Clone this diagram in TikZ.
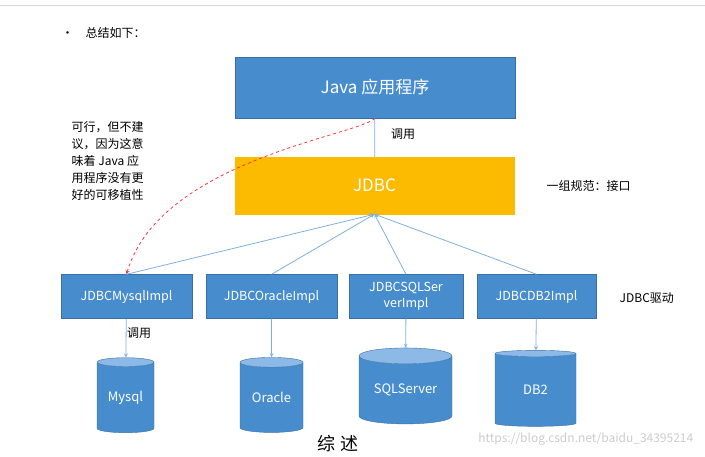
\documentclass[tikz,border=0pt]{standalone}
\usepackage{fontspec}
\setmainfont{Noto Sans CJK SC}
\usetikzlibrary{shapes.geometric,positioning}
\definecolor{boxblue}{RGB}{71,140,205}
\definecolor{topblue}{RGB}{140,185,230}
\definecolor{jdbcgold}{RGB}{252,186,0}
\begin{document}
\begin{tikzpicture}[x=1pt,y=-1pt,
        every path/.style={thick},
        box/.style={draw=boxblue!80!black, thin, fill=boxblue, text=white, align=center, inner sep=0pt},
        db/.style={cylinder, shape border rotate=90, aspect=0.25, draw=boxblue!80!black, thin,
          cylinder uses custom fill, cylinder body fill=boxblue, cylinder end fill=topblue,
          text=white, inner sep=0pt},
        link/.style={->, draw=topblue!80!boxblue, thick, >=stealth},
        note/.style={font=\fontsize{12}{17}\selectfont, align=left}
    ]
    \useasboundingbox (0,0) rectangle (705,457);
    \draw[gray!30, thin] (0,5) -- (705,5);

    % Nodes
      \node (head)[note, anchor=west] at (58,33) {•\quad 总结如下：};
      \node (java)[box, minimum width=280pt, minimum height=61pt, font=\fontsize{17}{20}\selectfont] at (375,87.5) {Java 应用程序};
      \node (jdbc)[box, fill=jdbcgold, draw=jdbcgold, minimum width=279pt, minimum height=57pt, font=\fontsize{17}{20}\selectfont] at (374.5,185.5) {JDBC};
      \node (spec)[note, anchor=west] at (543,186) {一组规范：接口};
      \node (call)[note] at (403,134) {调用};
      \node (hint)[note, anchor=north west] at (68,118) {可行，但不建\\议，因为这意\\味着 Java 应\\用程序没有更\\好的可移植性};

      \node (mysqlimpl)[box, minimum width=131pt, minimum height=44pt, font=\fontsize{12.5}{16}\selectfont] at (126.5,296.5) {JDBCMysqlImpl};
      \node (oracleimpl)[box, minimum width=131pt, minimum height=44pt, font=\fontsize{12.5}{16}\selectfont] at (271.5,296.5) {JDBCOracleImpl};
      \node (sqlimpl)[box, minimum width=114pt, minimum height=44pt, font=\fontsize{12.5}{16}\selectfont] at (406,296.5) {JDBCSQLSer\\verImpl};
      \node (db2impl)[box, minimum width=119pt, minimum height=44pt, font=\fontsize{12.5}{16}\selectfont] at (536.5,296.5) {JDBCDB2Impl};
      \node (driver)[note, anchor=west] at (616,298) {JDBC驱动};
      \node (call2)[note] at (139,333) {调用};

      \node (mysql)[db, minimum width=57pt, minimum height=75pt, font=\fontsize{13}{15}\selectfont] at (125.5,397.5) {Mysql};
      \node (oracle)[db, minimum width=63pt, minimum height=75pt, font=\fontsize{13}{15}\selectfont] at (271.5,397.5) {Oracle};
      \node (sqlserver)[db, minimum width=93pt, minimum height=76pt, font=\fontsize{13}{15}\selectfont] at (405.5,390) {SQLServer};
      \node (db2)[db, minimum width=81pt, minimum height=76pt, font=\fontsize{13}{15}\selectfont] at (535.5,390) {DB2};

      \node (title)[font=\fontsize{18}{20}\selectfont] at (338,444) {综\ 述};
      \node (mark)[text=gray!40, font=\fontsize{12}{14}\selectfont, anchor=east] at (697,439) {https://blog.csdn.net/baidu\_34395214};

    \draw[draw=topblue!80!boxblue] (java) -- (jdbc);
    \draw[->, red!80, dashed, >=stealth] (java.south) .. controls (360,135) and (160,160) .. (mysqlimpl.north);

    \draw[link] (mysqlimpl.north) -- (jdbc.south);
    \draw[link] (oracleimpl.north) -- (jdbc.south);
    \draw[link] (sqlimpl.north) -- (jdbc.south);
    \draw[link] (db2impl.north) -- (jdbc.south);

    \draw[link] (mysqlimpl) -- (mysql);
    \draw[link] (oracleimpl) -- (oracle);
    \draw[link] (sqlimpl) -- (sqlserver);
    \draw[link] (db2impl) -- (db2);
    
\end{tikzpicture}
\end{document}
